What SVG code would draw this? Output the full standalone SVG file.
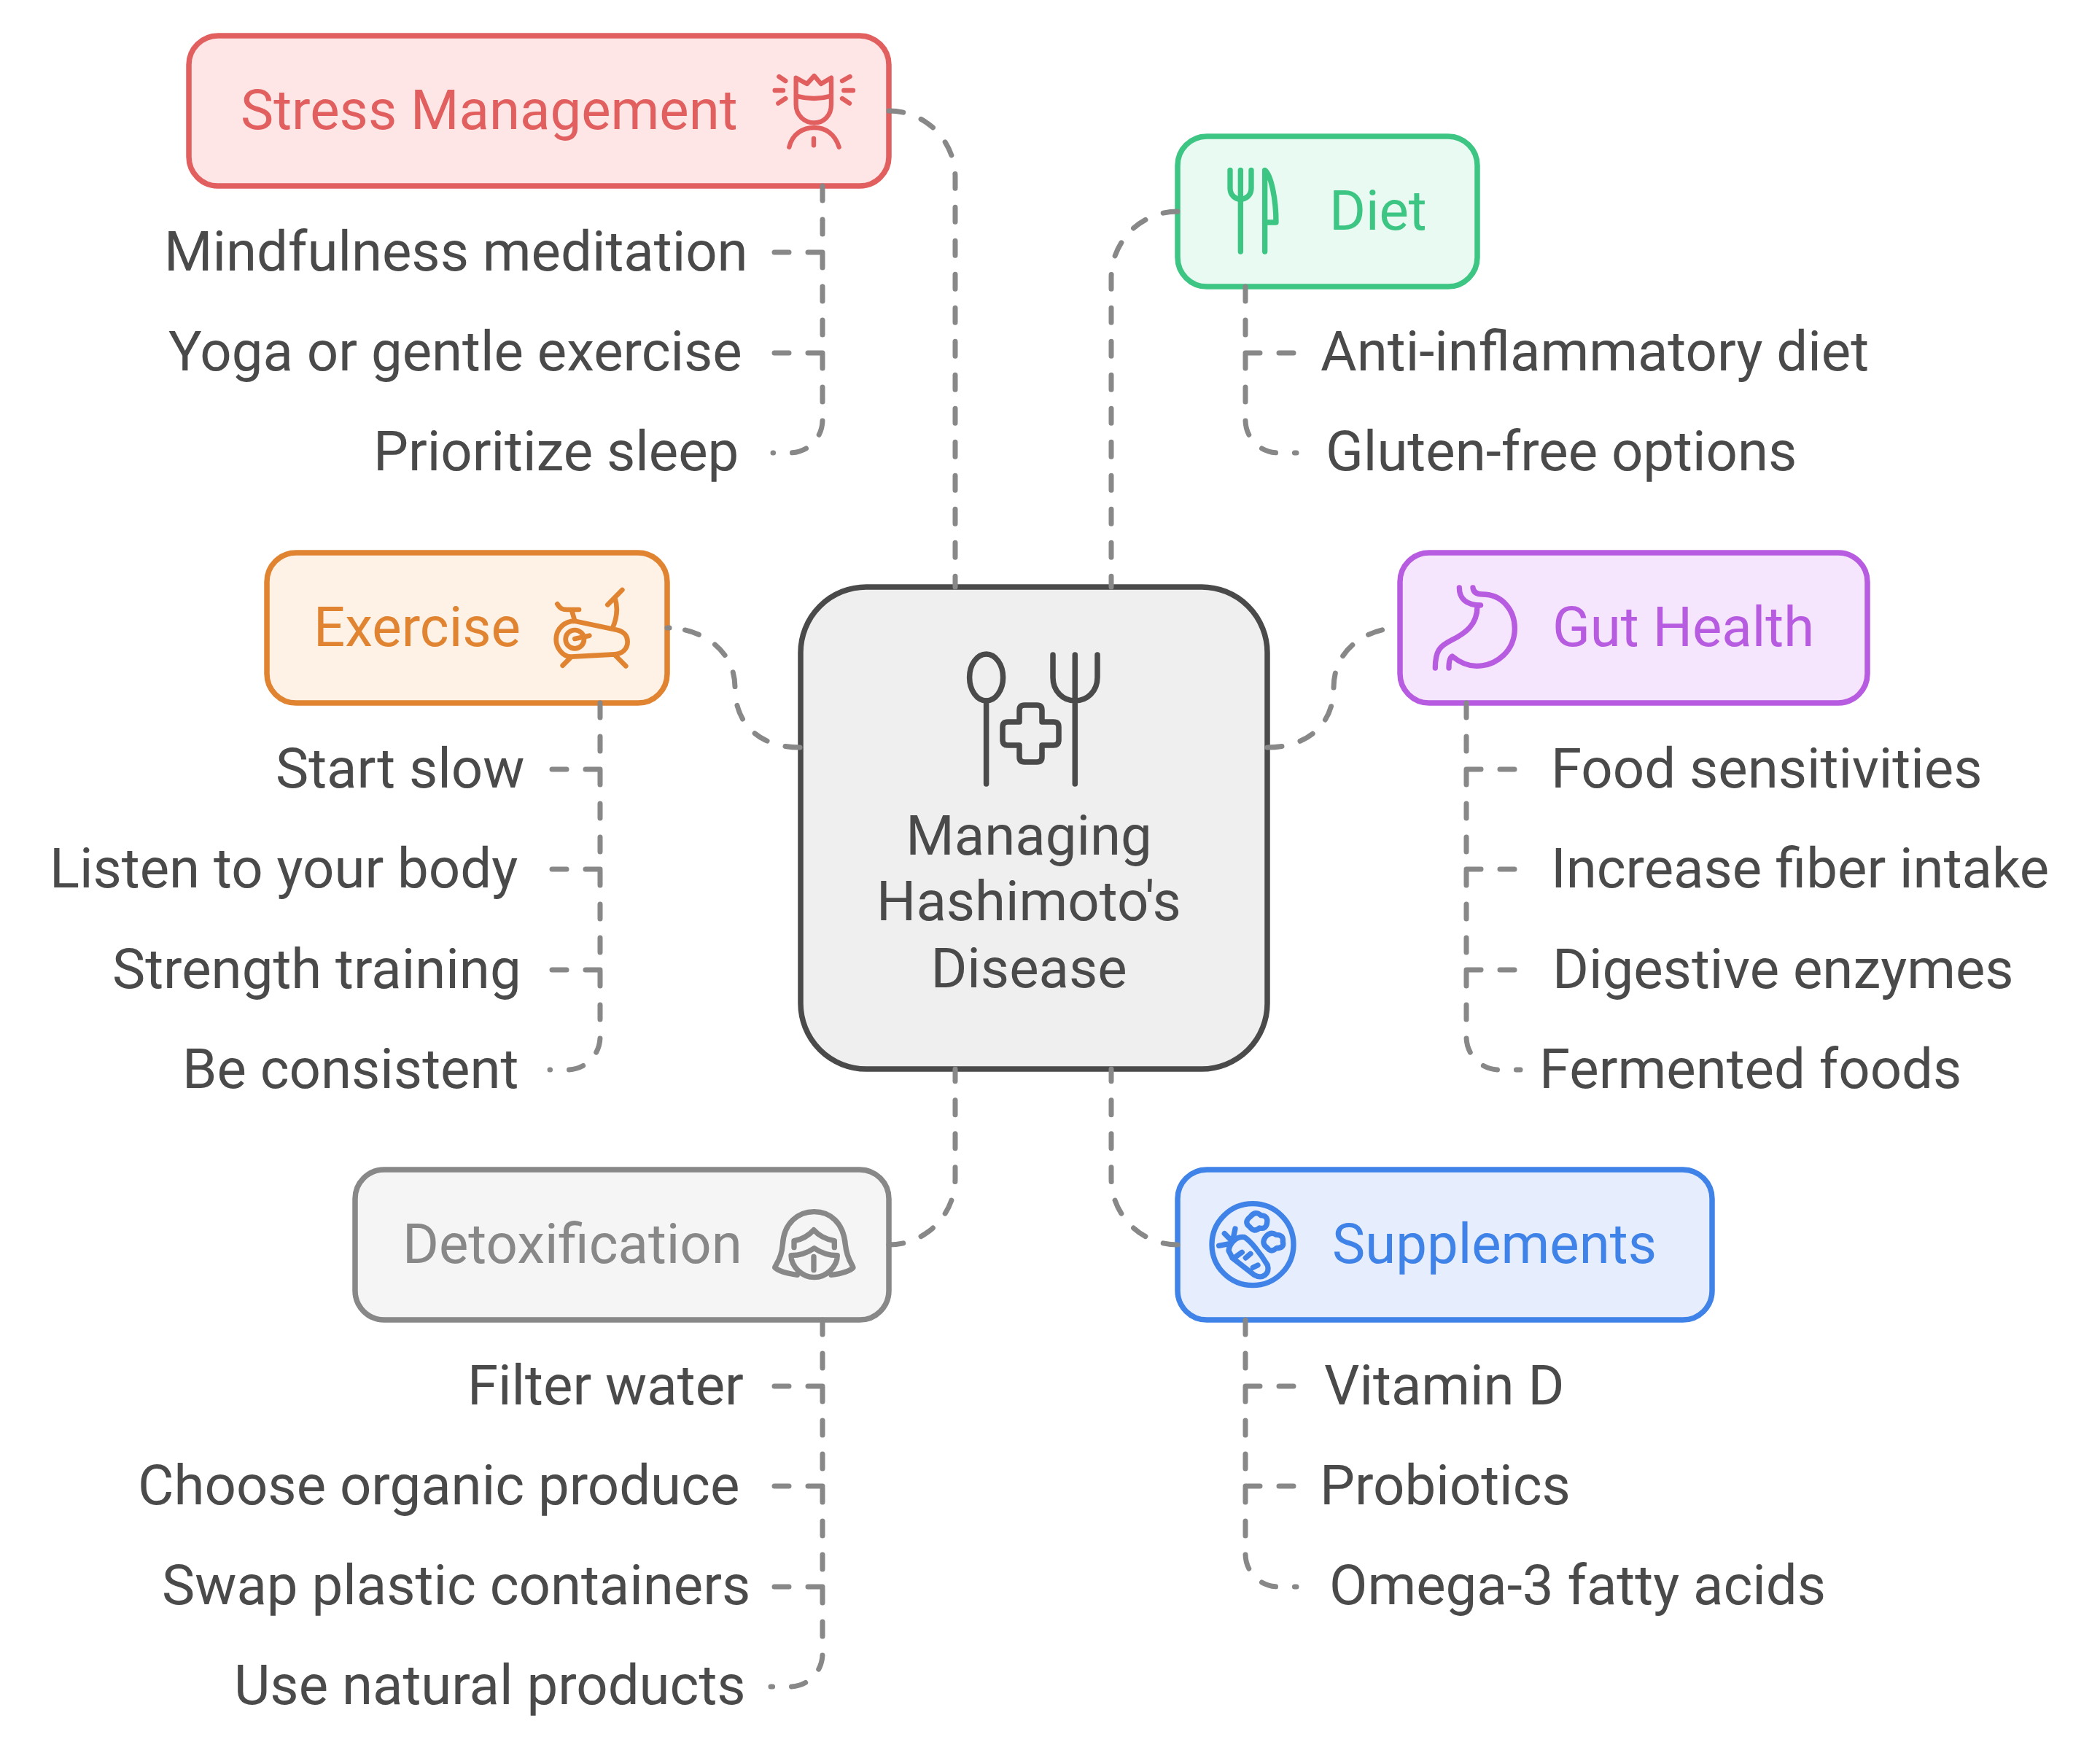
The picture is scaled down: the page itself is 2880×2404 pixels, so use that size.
<svg xmlns="http://www.w3.org/2000/svg" width="2880" height="2404" viewBox="0 0 2880 2404">
<style>
text{font-family:Roboto,"Liberation Sans",sans-serif;font-size:76.15px}
.t{fill:#4a4a4a}
.m{text-anchor:middle}
.box{stroke-width:7.5}
.ic{fill:none;stroke-linecap:round;stroke-linejoin:round}
.c{fill:none;stroke:#888;stroke-width:7;stroke-linecap:round;stroke-dasharray:20 26}
</style>
<rect width="2880" height="2404" fill="#fff"/>
<g id="node-center">
<rect class="box" x="1098" y="805" width="640" height="661" rx="90" fill="#efefef" stroke="#4a4a4a"/>
<g class="ic" stroke="#4a4a4a" stroke-width="7.5">
<ellipse cx="1352.6" cy="929" rx="23" ry="32"/><path d="M1352.6 961V1075M1444 898V929C1444 948 1458 961 1474.3 961C1491 961 1505 948 1505 929V898M1474.3 898V1075"/>
<path d="M1405 967H1422Q1429 967 1429 974V990H1445Q1452 990 1452 997V1015Q1452 1022 1445 1022H1429V1038Q1429 1045 1422 1045H1405Q1398 1045 1398 1038V1022H1382Q1375 1022 1375 1015V997Q1375 990 1382 990H1398V974Q1398 967 1405 967Z"/>
</g>
<text class="t m" x="1411" y="1172">Managing</text>
<text class="t m" x="1411" y="1262">Hashimoto's</text>
<text class="t m" x="1411" y="1354">Disease</text>
</g>
<g id="node-stress">
<rect class="box" x="259" y="49" width="960" height="206" rx="40" fill="#ffe6e6" stroke="#e25f5f"/>
<text x="330" y="177" fill="#e25f5f">Stress Management</text>
<g class="ic" stroke="#e25f5f" stroke-width="19" transform="translate(1020 80) scale(.3333)">
<path d="M215 80L260 105L290 72L318 105L360 80V190C360 235 330 265 290 265C250 265 215 235 215 190ZM215 155Q290 175 360 155M145 75L172 93M128 132H162M142 185L172 165M437 75L405 93M450 132H412M435 185L405 165M187 365C200 310 245 285 290 285C335 285 375 310 392 365M288 330V358"/>
</g>
</g>
<g id="stress-items">
<text class="t" x="225" y="371">Mindfulness meditation</text>
<text class="t" x="231" y="508">Yoga or gentle exercise</text>
<text class="t" x="512" y="645">Prioritize sleep</text>
</g>
<g id="node-diet">
<rect class="box" x="1615" y="187" width="411" height="206" rx="40" fill="#e8faf2" stroke="#3cc583"/>
<text x="1823" y="315" fill="#3cc583">Diet</text>
<g class="ic" stroke="#3cc583" stroke-width="22" transform="translate(1640 200) scale(.3333)">
<path d="M141 100V175C141 205 165 220 183 220C205 220 228 205 228 175V100M184 100V435M284 435V100C310 120 330 220 330 315H284"/>
</g>
</g>
<g id="diet-items">
<text class="t" x="1811" y="508">Anti-inflammatory diet</text>
<text class="t" x="1818" y="645">Gluten-free options</text>
</g>
<g id="node-exercise">
<rect class="box" x="366" y="758" width="549" height="206" rx="40" fill="#fef1e6" stroke="#e08431"/>
<text x="430" y="886" fill="#e08431">Exercise</text>
<g class="ic" stroke="#e08431" stroke-width="20" transform="translate(700 740) scale(.3333)">
<path d="M193 265C205 285 215 288 232 288H282M252 290L265 335L440 372C465 378 482 395 482 420C482 450 460 470 430 472L250 482C215 482 188 445 188 410C188 365 225 335 265 335M460 207L400 268M430 240C445 285 435 330 420 365M265 408L325 395M245 488L215 518M435 480L475 520"/>
<circle cx="265" cy="410" r="38"/>
</g>
</g>
<g id="exercise-items">
<text class="t" x="378" y="1080">Start slow</text>
<text class="t" x="68" y="1217">Listen to your body</text>
<text class="t" x="154" y="1355">Strength training</text>
<text class="t" x="250" y="1492">Be consistent</text>
</g>
<g id="node-gut">
<rect class="box" x="1920" y="758" width="641" height="206" rx="40" fill="#f5e6fe" stroke="#b75ce0"/>
<text x="2129" y="886" fill="#b75ce0">Gut Health</text>
<g class="ic" stroke="#b75ce0" stroke-width="22" transform="translate(1940 780) scale(.3333)">
<path d="M184 78C184 120 210 150 272 150M258 155C258 230 210 265 150 295C105 318 85 335 85 408M240 78C242 95 255 105 280 105C360 105 412 170 412 245C412 335 340 400 255 400C215 400 185 385 155 360C145 365 141 380 141 408"/>
</g>
</g>
<g id="gut-items">
<text class="t" x="2127" y="1080">Food sensitivities</text>
<text class="t" x="2127" y="1217">Increase fiber intake</text>
<text class="t" x="2129" y="1355">Digestive enzymes</text>
<text class="t" x="2111" y="1492">Fermented foods</text>
</g>
<g id="node-detox">
<rect class="box" x="487" y="1604" width="732" height="206" rx="40" fill="#f5f5f5" stroke="#888"/>
<text x="552" y="1732" fill="#888">Detoxification</text>
<g class="ic" stroke="#888" stroke-width="22" transform="translate(1040 1640) scale(.3333)">
<path d="M160 325C120 320 85 310 68 295C68 285 95 265 100 200C105 110 165 65 230 65C295 65 350 110 358 200C365 265 390 285 390 295C375 310 340 320 300 325M147 212V185C175 180 205 165 228 140C250 165 285 180 313 185V212M135 245C170 245 205 232 230 215C255 232 290 245 325 245C325 290 280 335 230 335C180 335 135 290 135 245ZM228 250V305"/>
</g>
</g>
<g id="detox-items">
<text class="t" x="641" y="1926">Filter water</text>
<text class="t" x="189" y="2063">Choose organic produce</text>
<text class="t" x="222" y="2200">Swap plastic containers</text>
<text class="t" x="321" y="2337">Use natural products</text>
</g>
<g id="node-supp">
<rect class="box" x="1615" y="1604" width="733" height="206" rx="40" fill="#e6eefe" stroke="#4083e8"/>
<text x="1827" y="1732" fill="#4083e8">Supplements</text>
<g class="ic" stroke="#4083e8" stroke-width="22" transform="translate(1640 1640) scale(.3333)">
<circle cx="234" cy="200" r="168"/>
<path d="M135 225C140 190 170 165 200 170C225 185 265 235 295 285C305 320 275 345 240 325L150 255ZM162 135L152 182M118 155L150 187M95 205L147 195M190 232L165 250M225 238L205 255M255 285L235 295"/>
<path d="M225 85Q245 60 268 80Q298 82 293 110Q290 138 262 132Q240 152 222 128Q195 108 225 85Z"/>
<path d="M290 165Q310 145 330 160Q362 160 358 188Q365 215 332 215Q310 235 295 215Q265 195 290 165Z"/>
</g>
</g>
<g id="supp-items">
<text class="t" x="1816" y="1926">Vitamin D</text>
<text class="t" x="1810" y="2063">Probiotics</text>
<text class="t" x="1823" y="2200">Omega-3 fatty acids</text>
</g>
<g id="connectors">
<path class="c" d="M1219 152A91 91 0 0 1 1310 243V805"/>
<path class="c" d="M1615 290A91 91 0 0 0 1524 381V805"/>
<path class="c" d="M1097 1025C1045 1025 1008 996 1008 943C1008 890 960 861 914 861M915 861H918"/>
<path class="c" d="M1738 1025C1790 1025 1829 996 1829 943C1829 890 1875 861 1920 861"/>
<path class="c" d="M1219 1707A91 91 0 0 0 1310 1616V1466"/>
<path class="c" d="M1615 1707A91 91 0 0 1 1524 1616V1466"/>
<path class="c" d="M1128 255V576A45 45 0 0 1 1083 621H1060M1128 346H1061M1128 484H1061"/>
<path class="c" d="M1708 393V576A45 45 0 0 0 1753 621H1778M1708 484H1775"/>
<path class="c" d="M823 964V1422A45 45 0 0 1 778 1467H754M823 1055H756M823 1192H756M823 1330H756"/>
<path class="c" d="M2011 964V1422A45 45 0 0 0 2056 1467H2085M2011 1055H2078M2011 1192H2078M2011 1330H2078"/>
<path class="c" d="M1128 1810V2268A45 45 0 0 1 1083 2313H1057M1128 1901H1061M1128 2038H1061M1128 2176H1061"/>
<path class="c" d="M1708 1810V2131A45 45 0 0 0 1753 2176H1778M1708 1901H1775M1708 2038H1775"/>
</g>
</svg>
